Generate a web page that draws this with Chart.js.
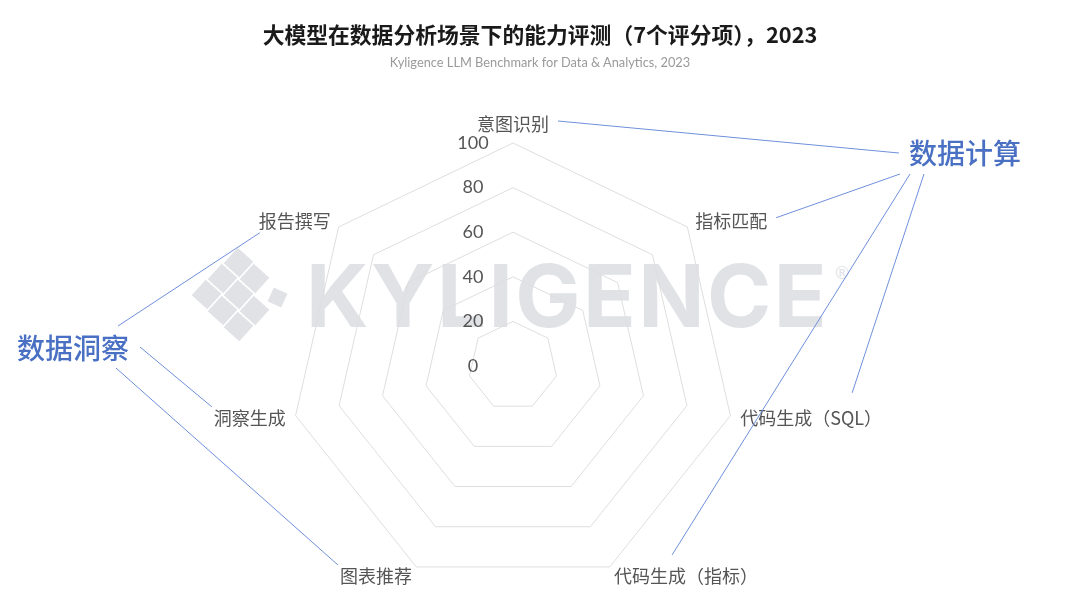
<!DOCTYPE html>
<html>
<head>
<meta charset="utf-8">
<script src="https://cdn.jsdelivr.net/npm/chart.js@4/dist/chart.umd.min.js"></script>
<style>
  html, body { margin: 0; padding: 0; background: #fff; overflow: hidden; }
  #wrap { position: relative; width: 1080px; height: 609px; }
  #chart { position: absolute; left: 0; top: 0; z-index: 2; }
  .title {
    position: absolute; left: 0; width: 1080px; text-align: center; z-index: 3;
    font-family: "Noto Sans CJK SC", "Noto Sans", sans-serif;
  }
  #title { top: 20px; font-size: 21.8px; font-weight: 700; color: #1a1a1a; line-height: 28px; }
  #subtitle { top: 54px; font-size: 12.8px; color: #9a9a9a; line-height: 16px; font-family: "Lato", "Noto Sans", sans-serif; }
  #wm { position: absolute; left: 0; top: 0; width: 1080px; height: 609px; z-index: 1; }
  #wmText {
    position: absolute; left: 306px; top: 243px; white-space: nowrap;
    font-family: "Inter", "Lato", sans-serif; font-weight: 700; font-size: 87px;
    line-height: 106px; color: #e1e2e6;
  }
  #wmReg {
    position: absolute; left: 835px; top: 262px; font-family: "Lato", sans-serif;
    font-size: 17px; color: #e1e2e6;
  }
  .dia { position: absolute; background: #e1e2e6; }
</style>
</head>
<body>
<div id="wrap">
  <div id="wm">
    <div id="wmText">KYLIGENCE</div>
    <div id="wmReg">®</div>
  </div>
  <div class="title" id="title">大模型在数据分析场景下的能力评测（7个评分项），2023</div>
  <div class="title" id="subtitle">Kyligence LLM Benchmark for Data &amp; Analytics, 2023</div>
  <canvas id="chart" width="1080" height="609"></canvas>
</div>
<script>
// radar axes (clockwise from top)
const categories = ["意图识别", "指标匹配", "代码生成（SQL）", "代码生成（指标）", "图表推荐", "洞察生成", "报告撰写"];
// radial tick labels
const tickValues = [0, 20, 40, 60, 80, 100];
// no scores are plotted in the reference, only the empty grid
const scores = [];
// capability groups and the axes they point to
const groupNames = ["数据计算", "数据洞察"];
const groupMembers = [[0, 1, 3, 2], [6, 5, 4]];

const COLORS = {
  grid: "#dedede",
  label: "#555555",
  group: "#4a70c4",
  link: "#6f8fdc",
};
const CJK = "'Noto Sans CJK SC', 'Noto Sans', sans-serif";

// watermark logo: rotated squares
(function drawLogo() {
  const wm = document.getElementById("wm");
  const cells = [[238, 262], [222, 278], [254, 278], [206, 294], [238, 294], [222, 310], [254, 310], [238, 326]];
  cells.forEach(([x, y]) => {
    const d = document.createElement("div");
    d.className = "dia";
    d.style.cssText = `left:${x - 10.5}px;top:${y - 10.5}px;width:21px;height:21px;transform:rotate(42deg)`;
    wm.appendChild(d);
  });
  const s = document.createElement("div");
  s.className = "dia";
  s.style.cssText = "left:270px;top:290px;width:15px;height:15px;transform:rotate(25deg)";
  wm.appendChild(s);
  // stretch watermark word to its width in the reference
  const t = document.getElementById("wmText");
  const w = t.getBoundingClientRect().width;
  t.style.letterSpacing = ((522 - w) / 8.6) + "px";
})();

// draws tick labels, axis names, group names and connector lines
const overlayPlugin = {
  id: "overlay",
  afterDraw(chart) {
    const ctx = chart.ctx;
    const r = chart.scales.r;
    ctx.save();

    // tick labels, shifted left of the centre line
    ctx.font = "18px 'Lato', 'Noto Sans', sans-serif";
    ctx.fillStyle = COLORS.label;
    ctx.textAlign = "center";
    ctx.textBaseline = "middle";
    tickValues.forEach((v) => {
      const d = r.getDistanceFromCenterForValue(v);
      ctx.fillText(String(v), r.xCenter - 40, r.yCenter - d);
    });

    // axis names
    ctx.font = "18px " + CJK;
    const boxes = categories.map((name, i) => {
      const p = r.getPointPosition(i, r.drawingArea + 10);
      const dx = p.x - r.xCenter;
      let align = "center";
      if (dx > 2) align = "left";
      else if (dx < -2) align = "right";
      const base = Math.abs(dx) <= 2 ? (p.y < r.yCenter ? "bottom" : "top") : "middle";
      ctx.textAlign = align;
      ctx.textBaseline = base;
      ctx.fillText(name, p.x, p.y);
      const w = ctx.measureText(name).width;
      const x0 = align === "left" ? p.x : align === "right" ? p.x - w : p.x - w / 2;
      const yc = base === "middle" ? p.y : base === "bottom" ? p.y - 11 : p.y + 11;
      return { x0, x1: x0 + w, y0: yc - 10, y1: yc + 10, yc };
    });

    // group names
    ctx.font = "500 28px " + CJK;
    ctx.fillStyle = COLORS.group;
    ctx.textAlign = "center";
    ctx.textBaseline = "middle";
    const gPos = [[965, 153], [73, 348]];
    const gBox = groupNames.map((g, k) => {
      ctx.fillText(g, gPos[k][0], gPos[k][1]);
      const w = ctx.measureText(g).width;
      return { x0: gPos[k][0] - w / 2, x1: gPos[k][0] + w / 2, y0: gPos[k][1] - 14, y1: gPos[k][1] + 14, yc: gPos[k][1] };
    });

    // connector lines from axis names to their group
    const a = boxes, g1 = gBox[0], g2 = gBox[1];
    const links = [
      [[a[0].x1 + 9, a[0].yc - 1], [g1.x0 - 10, g1.yc]],
      [[a[1].x1 + 9, a[1].yc - 3], [g1.x0 - 9, g1.y1 + 7]],
      [[a[3].x0 + 58, a[3].y0 - 11], [g1.x0 + 1, g1.y1 + 7]],
      [[a[2].x0 + 112, a[2].y0 - 15], [g1.x0 + 15, g1.y1 + 7]],
      [[a[6].x0 + 1, a[6].y1 + 2], [g2.x1 - 11, g2.y0 - 8]],
      [[a[5].x0 - 2, a[5].y0 - 1], [g2.x1 + 11, g2.yc - 1]],
      [[a[4].x0 - 2, a[4].y0 - 1], [g2.x1 - 13, g2.y1 + 6]],
    ];
    ctx.strokeStyle = COLORS.link;
    ctx.lineWidth = 1;
    links.forEach(([p, q]) => {
      ctx.beginPath();
      ctx.moveTo(p[0], p[1]);
      ctx.lineTo(q[0], q[1]);
      ctx.stroke();
    });
    ctx.restore();
  },
};

new Chart(document.getElementById("chart"), {
  type: "radar",
  data: {
    labels: categories,
    datasets: [{ label: "score", data: scores, borderWidth: 0, pointRadius: 0 }],
  },
  options: {
    responsive: false,
    animation: false,
    devicePixelRatio: 1,
    layout: { padding: { left: 290, right: 344, top: 143, bottom: 20 } },
    plugins: { legend: { display: false }, tooltip: { enabled: false } },
    scales: {
      r: {
        min: 0,
        max: 100,
        ticks: { stepSize: 20, display: false },
        grid: { color: COLORS.grid, lineWidth: 1 },
        angleLines: { display: false },
        pointLabels: { display: false },
      },
    },
  },
  plugins: [overlayPlugin],
});
</script>
</body>
</html>
